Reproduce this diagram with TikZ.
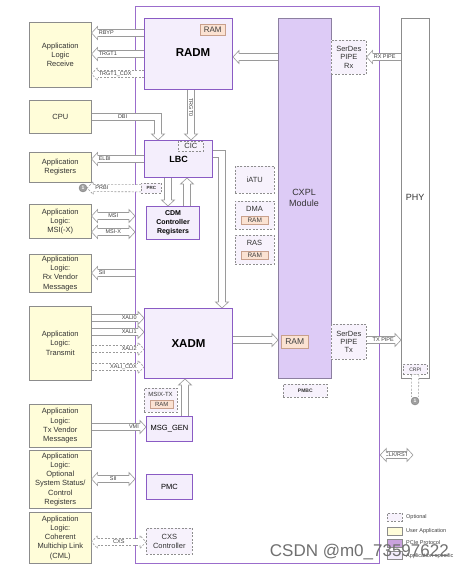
\documentclass[tikz,border=0pt]{standalone}
\usepackage{fontspec}
\setmainfont{Liberation Sans}
\usetikzlibrary{calc}

\definecolor{userfill}{HTML}{FFFDD9}
\definecolor{boxgray}{HTML}{8C8C8C}
\definecolor{corefill}{HTML}{F4EEFC}
\definecolor{corepurple}{HTML}{8A5BC4}
\definecolor{framepurple}{HTML}{9B6DCC}
\definecolor{cxplfill}{HTML}{DDCBF6}
\definecolor{cxpldraw}{HTML}{8C7FA0}
\definecolor{optfill}{HTML}{F7F2FC}
\definecolor{optgray}{HTML}{8E8E8E}
\definecolor{ramfill}{HTML}{FBE2D2}
\definecolor{ramdraw}{HTML}{C8A08C}
\definecolor{arrgray}{HTML}{9A9A9A}
\definecolor{wmgray}{HTML}{707070}

\tikzset{
  corner/.style 2 args={minimum width=#1, minimum height=#2, anchor=north west},
  ubox/.style={draw=boxgray, fill=userfill, line width=0.6pt, align=center, inner sep=0pt,
    font=\fontsize{7.5}{9.2}\selectfont, text=black!80},
  cbox/.style={draw=corepurple, fill=corefill, line width=1pt, align=center, inner sep=0pt},
  obox/.style={draw=optgray, fill=optfill, line width=0.6pt, dash pattern=on 2pt off 1.5pt,
    align=center, inner sep=0pt, text=black!80},
  rambox/.style={draw=ramdraw, fill=ramfill, line width=0.5pt, inner sep=0pt,
    font=\fontsize{6.5}{7}\selectfont, text=black!75},
  shaft/.style={draw=arrgray, line width=0.6pt, double=white, double distance=6.5pt},
  optshaft/.style={draw=arrgray, line width=7.7pt, dash pattern=on 2pt off 1.5pt,
    postaction={draw=white, line width=6.5pt, solid}},
  optline/.style={dash pattern=on 2pt off 1.5pt},
  lbl/.style={font=\fontsize{5.5}{6}\selectfont, inner sep=0pt, text=black!75},
}

% hollow arrow head: [style]{tip point}{direction}
\newcommand{\arrhead}[3][]{%
  \begin{scope}[shift={#2}, rotate=#3]
    \fill[white] (0,0) -- (-6,6.5) -- (-6,-6.5) -- cycle;
    \draw[draw=arrgray, line width=0.6pt, line join=miter, #1]
      (-6,3.3) -- (-6,6.5) -- (0,0) -- (-6,-6.5) -- (-6,-3.3);
  \end{scope}}

\begin{document}
\begin{tikzpicture}[x=1pt, y=-1pt]
    \useasboundingbox (0,0) rectangle (459,569);
    % Controller frame
    \node[draw=framepurple, line width=1.2pt, fill=white, corner={244}{557}] (core) at (135,6) {};
    % CXPL module and PHY
    \node[draw=cxpldraw, fill=cxplfill, line width=0.8pt, corner={53}{360}] (cxpl) at (278,18) {};
    \node[font=\fontsize{9}{10.7}\selectfont, align=center, text=black!80] (cxpltxt) at (304,198) {CXPL\\Module};
    \node[draw=boxgray, fill=white, line width=0.6pt, corner={28}{360}] (phy) at (401,18) {};
    \node[font=\fontsize{9}{10}\selectfont, text=black!80] (phytxt) at (415,197) {PHY};
    % Application blocks
    \node[ubox, corner={62}{65}] (rx) at (29,22) {Application\\Logic\\Receive};
    \node[ubox, corner={62}{33}] (cpu) at (29,100) {CPU};
    \node[ubox, corner={62}{30}] (areg) at (29,152) {Application\\Registers};
    \node[ubox, corner={62}{34}] (msi) at (29,204) {Application\\Logic:\\MSI(-X)};
    \node[ubox, corner={62}{38}] (rxv) at (29,254) {Application\\Logic:\\Rx Vendor\\Messages};
    \node[ubox, corner={62}{74}] (tx) at (29,306) {Application\\Logic:\\Transmit};
    \node[ubox, corner={62}{43}] (txv) at (29,404) {Application\\Logic:\\Tx Vendor\\Messages};
    \node[ubox, corner={62}{58}] (sys) at (29,450) {Application\\Logic:\\Optional\\System Status/\\Control\\Registers};
    \node[ubox, corner={62}{51}] (cml) at (29,512) {Application\\Logic:\\Coherent\\Multichip Link\\(CML)};
    % Core blocks
    \node[cbox, corner={88}{71}] (radm) at (144,18) {};
    \node[font=\fontsize{11.5}{12}\selectfont\bfseries, inner sep=0pt] (radmtxt) at (193,53) {RADM};
    \node[cbox, corner={68}{37}, font=\fontsize{9}{10}\selectfont\bfseries] (lbc) at (144,140) {LBC};
    \node[cbox, corner={53}{33}, font=\fontsize{7}{8.8}\selectfont\bfseries] (cdm) at (146,206) {CDM\\Controller\\Registers};
    \node[cbox, corner={88}{70}, font=\fontsize{11.5}{12}\selectfont\bfseries] (xadm) at (144,308) {XADM};
    \node[cbox, corner={46}{25}, font=\fontsize{7.5}{8}\selectfont] (msggen) at (146,416) {MSG\_GEN};
    \node[cbox, corner={46}{25}, font=\fontsize{7.5}{8}\selectfont] (pmc) at (146,474) {PMC};
    % Optional blocks
    \node[obox, corner={25}{10}, font=\fontsize{7.5}{8}\selectfont] (cic) at (178,141) {CIC};
    \node[obox, corner={20}{10}, font=\fontsize{4.5}{5}\selectfont\bfseries] (prc) at (141,183) {PRC};
    \node[obox, corner={39}{27}, font=\fontsize{7.5}{8}\selectfont] (iatu) at (235,166) {iATU};
    \node[obox, corner={39}{28}] (dma) at (235,201) {};
    \node[font=\fontsize{7.5}{8}\selectfont, inner sep=0pt, text=black!80] (dmatxt) at (254.5,209) {DMA};
    \node[obox, corner={39}{29}] (ras) at (235,235) {};
    \node[font=\fontsize{7.5}{8}\selectfont, inner sep=0pt, text=black!80] (rastxt) at (254.5,243) {RAS};
    \node[obox, corner={33}{24}] (msix) at (144,388) {};
    \node[font=\fontsize{6}{6.5}\selectfont, inner sep=0pt, text=black!80] (msixtxt) at (160.5,394.5) {MSIX-TX};
    \node[obox, corner={46}{26}, font=\fontsize{7.5}{8.5}\selectfont] (cxs) at (146,528) {CXS\\Controller};
    \node[obox, corner={35}{34}, font=\fontsize{7.5}{8.3}\selectfont] (sdrx) at (331,40) {SerDes\\PIPE\\Rx};
    \node[obox, corner={35}{35}, font=\fontsize{7.5}{8.3}\selectfont] (sdtx) at (331,324) {SerDes\\PIPE\\Tx};
    \node[obox, corner={44}{13}, font=\fontsize{5}{5.5}\selectfont\bfseries] (pmbc) at (283,384) {PMBC};
    \node[obox, corner={24}{10}, font=\fontsize{5}{5.5}\selectfont] (crpi) at (403,364) {CRPI};
    % RAMs
    \node[rambox, corner={25}{11}, font=\fontsize{8}{8.5}\selectfont] (radmram) at (200,24) {RAM};
    \node[rambox, corner={27}{13}, font=\fontsize{8.5}{9}\selectfont] (cxplram) at (281,335) {RAM};
    \node[rambox, corner={27}{8}] (dmaram) at (241,216) {RAM};
    \node[rambox, corner={27}{8}] (rasram) at (241,251) {RAM};
    \node[rambox, corner={23}{8}, font=\fontsize{6}{6.5}\selectfont] (msixram) at (150,400) {RAM};
    % Off-page markers
    \node[circle, draw=gray, fill=gray!75, text=white, inner sep=0pt, minimum size=8,
        font=\fontsize{5}{5}\selectfont\bfseries] (c1) at (83,188) {1};
    \node[circle, draw=gray, fill=gray!75, text=white, inner sep=0pt, minimum size=8,
        font=\fontsize{5}{5}\selectfont\bfseries] (c2) at (415,401) {1};
    \coordinate (clkend) at (413,455);

    % Receive side to the application
    \foreach \yy/\lbl in {33/RBYP, 54/TRGT1} {
        \draw[shaft, shorten >=6pt] (radm.west |- 0,\yy) -- (rx.east |- 0,\yy);
        \arrhead{(rx.east |- 0,\yy)}{180}
        \node[lbl, anchor=west, xshift=7pt] (l\yy) at (rx.east |- 0,\yy) {\lbl};
    }
    \draw[optshaft, shorten >=6pt] (radm.west |- 0,74) -- (rx.east |- 0,74);
    \arrhead[optline]{(rx.east |- 0,74)}{180}
    \node[lbl, anchor=west, xshift=7pt] (l74) at (rx.east |- 0,74) {TRGT1\_CDX};
    % CPU and registers
    \draw[shaft, shorten >=6pt] (cpu.east |- 0,117) -| ([xshift=14pt]lbc.north west);
    \arrhead{([xshift=14pt]lbc.north west)}{270}
    \node[lbl, xshift=31pt] (ldbi) at (cpu.east |- 0,117) {DBI};
    \draw[shaft, shorten >=6pt] (lbc.west |- 0,159) -- (areg.east |- 0,159);
    \arrhead{(areg.east |- 0,159)}{180}
    \node[lbl, anchor=west, xshift=7pt] (lelbi) at (areg.east |- 0,159) {ELBI};
    \draw[optshaft, shorten >=6pt] (prc.west) -- (c1.east);
    \arrhead[optline]{(c1.east)}{180}
    \node[lbl, anchor=west, xshift=8pt] (lprbi) at (c1.east) {PRBI};
    % MSI and vendor messages
    \foreach \yy/\lbl in {216/MSI, 232/MSI-X} {
        \draw[shaft, shorten <=6pt, shorten >=6pt] (msi.east |- 0,\yy) -- node[lbl] (l\yy) {\lbl} (core.west |- 0,\yy);
        \arrhead{(msi.east |- 0,\yy)}{180}
        \arrhead{(core.west |- 0,\yy)}{0}
    }
    \draw[shaft, shorten >=6pt] (core.west |- 0,273) -- (rxv.east |- 0,273);
    \arrhead{(rxv.east |- 0,273)}{180}
    \node[lbl, anchor=west, xshift=7pt] (lsii) at (rxv.east |- 0,273) {SII};
    % Transmit side
    \foreach \yy/\lbl in {318/XALI0, 332/XALI1} {
        \draw[shaft, shorten >=6pt] (tx.east |- 0,\yy) -- (xadm.west |- 0,\yy);
        \arrhead{(xadm.west |- 0,\yy)}{0}
        \node[lbl, anchor=east, xshift=-7pt] (l\yy) at (xadm.west |- 0,\yy) {\lbl};
    }
    \foreach \yy/\lbl in {349/XALI2, 367/XALI\_CDX} {
        \draw[optshaft, shorten >=6pt] (tx.east |- 0,\yy) -- (xadm.west |- 0,\yy);
        \arrhead[optline]{(xadm.west |- 0,\yy)}{0}
        \node[lbl, anchor=east, xshift=-7pt] (l\yy) at (xadm.west |- 0,\yy) {\lbl};
    }
    \draw[shaft, shorten >=6pt] (txv.east |- 0,427) -- (msggen.west |- 0,427);
    \arrhead{(msggen.west |- 0,427)}{0}
    \node[lbl, anchor=east, xshift=-7pt] (lvmi) at (msggen.west |- 0,427) {VMI};
    \draw[shaft, shorten <=6pt, shorten >=6pt] (sys.east |- 0,479) -- node[lbl] (lsii2) {SII} (core.west |- 0,479);
    \arrhead{(sys.east |- 0,479)}{180}
    \arrhead{(core.west |- 0,479)}{0}
    \draw[optshaft, shorten <=6pt, shorten >=6pt] (cml.east |- 0,542) -- node[lbl] (lcxs) {CXS} (cxs.west |- 0,542);
    \arrhead[optline]{(cml.east |- 0,542)}{180}
    \arrhead[optline]{(cxs.west |- 0,542)}{0}
    % Inside the controller
    \draw[shaft, shorten >=6pt] ([xshift=47pt]radm.south west) -- node[lbl, rotate=-90, pos=0.35] (ltrgt0) {TRGT0} ([xshift=47pt]lbc.north west);
    \arrhead{([xshift=47pt]lbc.north west)}{270}
    \draw[shaft, shorten >=6pt] ([xshift=24pt]lbc.south west) -- ([xshift=22pt]cdm.north west);
    \arrhead{([xshift=22pt]cdm.north west)}{270}
    \draw[shaft, shorten >=6pt] ([xshift=41pt]cdm.north west) -- ([xshift=43pt]lbc.south west);
    \arrhead{([xshift=43pt]lbc.south west)}{90}
    \draw[shaft, shorten >=6pt] (lbc.east |- 0,154) -| ([xshift=78pt]xadm.north west);
    \arrhead{([xshift=78pt]xadm.north west)}{270}
    \draw[shaft, shorten >=6pt] ([xshift=39pt]msggen.north west) -- ([xshift=41pt]xadm.south west);
    \arrhead{([xshift=41pt]xadm.south west)}{90}
    \draw[shaft, shorten >=6pt] (cxpl.west |- 0,57) -- (radm.east |- 0,57);
    \arrhead{(radm.east |- 0,57)}{180}
    \draw[shaft, shorten >=6pt] (xadm.east |- 0,340) -- (cxpl.west |- 0,340);
    \arrhead{(cxpl.west |- 0,340)}{0}
    % PIPE and PHY
    \draw[shaft, shorten >=6pt] (phy.west |- 0,57) -- (sdrx.east |- 0,57);
    \arrhead{(sdrx.east |- 0,57)}{180}
    \node[lbl, anchor=west, xshift=7pt] (lrxpipe) at (sdrx.east |- 0,57) {RX PIPE};
    \draw[shaft, shorten >=6pt] (sdtx.east |- 0,340) -- (phy.west |- 0,340);
    \arrhead{(phy.west |- 0,340)}{0}
    \node[lbl, anchor=east, xshift=-7pt] (ltxpipe) at (phy.west |- 0,340) {TX PIPE};
    \draw[optshaft] (crpi.south) -- (c2.north);
    \draw[shaft, shorten <=6pt, shorten >=6pt] (core.east |- clkend) -- node[lbl] (lclk) {CLK/RST} (clkend);
    \arrhead{(core.east |- clkend)}{180}
    \arrhead{(clkend)}{0}

    % Legend
    \node[obox, corner={15}{8}] (lgopt) at (387,513) {};
    \node[lbl, anchor=west] (lgopttxt) at (406,517) {Optional};
    \node[ubox, corner={15}{8}] (lguser) at (387,527) {};
    \node[lbl, anchor=west] (lgusertxt) at (406,531) {User Application};
    \node[draw=boxgray, fill=cxplfill!80!violet, line width=0.5pt, corner={15}{8}] (lgprot) at (387,539) {};
    \node[lbl, anchor=west] (lgprottxt) at (406,543) {PCIe Protocol};
    \node[draw=boxgray, fill=corefill, line width=0.5pt, corner={15}{8}] (lgapp) at (387,551) {};
    \node[lbl, anchor=west] (lgapptxt) at (406,556) {Application-specific};
    % Watermark
    \node[font=\fontsize{17}{17}\selectfont, text=wmgray, anchor=east, inner sep=0pt] (wm) at (449,552) {CSDN @m0\_73597622};
\end{tikzpicture}
\end{document}
